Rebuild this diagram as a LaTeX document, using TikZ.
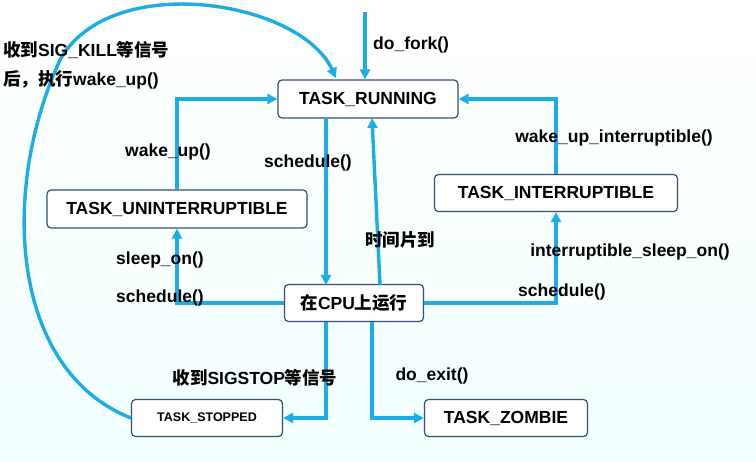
\documentclass[tikz,border=0pt]{standalone}
\usepackage{fontspec}
\setmainfont{Liberation Sans}
\newfontfamily\cjk{Noto Sans CJK SC}
\usetikzlibrary{arrows.meta}
\definecolor{ac}{HTML}{1CADE4}
\definecolor{bd}{HTML}{2F4F7F}
\begin{document}
\begin{tikzpicture}[x=1pt,y=-1pt,
  box/.style={draw=bd,line width=1.2pt,rounded corners=4pt,fill=white,font=\bfseries\fontsize{17.5}{20}\selectfont,inner sep=0pt},
  ar/.style={draw=ac,line width=3.4pt,-{Triangle[length=10pt,width=10pt]}},
  lb/.style={font=\bfseries\fontsize{17.5}{20}\selectfont,inner sep=1pt}]
\useasboundingbox (0,0) rectangle (756,462);
\fill[top color=white,bottom color=cyan!5!white] (0,0) rectangle (756,462);
\node[box,minimum width=180,minimum height=38] (run) at (368,99) {TASK\_RUNNING};
\node[box,minimum width=260,minimum height=38] (un) at (177,209) {TASK\_UNINTERRUPTIBLE};
\node[box,minimum width=243,minimum height=37] (in) at (556,193) {TASK\_INTERRUPTIBLE};
\node[box,minimum width=139,minimum height=37] (cpu) at (354,303) {\cjk 在\rmfamily CPU\cjk 上运行};
\node[box,minimum width=151,minimum height=37,font=\bfseries\fontsize{12.5}{14}\selectfont] (st) at (207,418) {TASK\_STOPPED};
\node[box,minimum width=163,minimum height=37] (zo) at (506,418) {TASK\_ZOMBIE};
\coordinate (f) at (365,12);
\draw[ar] (f) -- (f|-run.north);
\draw[ar] (326,118) -- (326,285);
\draw[ar] (380,285) -- (372,118);
\draw[ar] (cpu.west) -| (un.south);
\draw[ar] (un.north) |- (run.west);
\draw[ar] (cpu.east) -| (in.south);
\draw[ar] (in.north) |- (run.east);
\draw[ar] (326,322) |- (st.east);
\draw[ar] (372,322) |- (zo.west);
\draw[ar] (st.west) .. controls (10,370) and (0,190) .. (60,60) .. controls (110,-30) and (300,0) .. (336,78);
\node[lb] at (372,45) [right] {do\_fork()};
\node[lb] at (308,163) {schedule()};
\node[lb] at (400,240) {\cjk 时间片到};
\node[lb] at (168,152) {wake\_up()};
\node[lb] at (160,260) {sleep\_on()};
\node[lb] at (160,298) {schedule()};
\node[lb] at (614,138) {wake\_up\_interruptible()};
\node[lb] at (630,252) {interruptible\_sleep\_on()};
\node[lb] at (562,292) {schedule()};
\node[lb] at (255,378) {\cjk 收到\rmfamily SIGSTOP\cjk 等信号};
\node[lb] at (432,376) {do\_exit()};
\node[lb,anchor=west] at (2,50) {\cjk 收到\rmfamily SIG\_KILL\cjk 等信号};
\node[lb,anchor=west] at (2,80) {\cjk 后，执行\rmfamily wake\_up()};
\end{tikzpicture}
\end{document}
